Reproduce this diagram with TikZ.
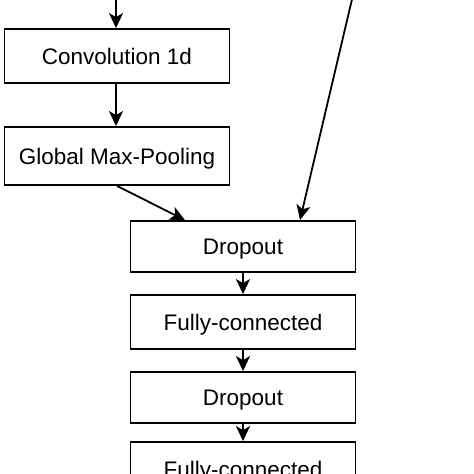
\documentclass[tikz,border=0pt]{standalone}
\usepackage{fontspec}
\setmainfont{Liberation Sans}
\usetikzlibrary{arrows.meta}
\begin{document}
\begin{tikzpicture}[x=1pt,y=-1pt,
  layer/.style={draw, line width=1.8pt, minimum width=225pt, inner sep=0pt, text depth=0.1pt, font=\fontsize{22.5}{26}\selectfont},
  conn/.style={line width=1.8pt, -{Stealth[length=15pt,width=14pt,inset=4pt]}}]
\useasboundingbox (0,0) rectangle (474,474);
\clip (0,0) rectangle (474,474);
\fill[white] (0,0) rectangle (474,474);
\coordinate (in1) at (116,-5);
\coordinate (in2) at (353,-5);
\node[layer, minimum height=54pt] (conv) at (117,56) {Convolution 1d};
\node[layer, minimum height=58pt] (gmp) at (117,156) {Global Max-Pooling};
\node[layer, minimum height=51pt] (d1) at (243,246.5) {Dropout};
\node[layer, minimum height=54pt] (fc1) at (243,322) {Fully-connected};
\node[layer, minimum height=51pt] (d2) at (243,397.5) {Dropout};
\node[layer, minimum height=54pt] (fc2) at (243,469) {Fully-connected};
\draw[conn] (in1) -- (conv.north -| in1);
\draw[conn] (conv.south -| in1) -- (gmp.north -| in1);
\draw[conn] (gmp.south) -- ([xshift=-58pt]d1.north);
\draw[conn] (in2) -- ([xshift=57pt]d1.north);
\draw[conn] (d1) -- (fc1);
\draw[conn] (fc1) -- (d2);
\draw[conn] (d2) -- (fc2);
\end{tikzpicture}
\end{document}
